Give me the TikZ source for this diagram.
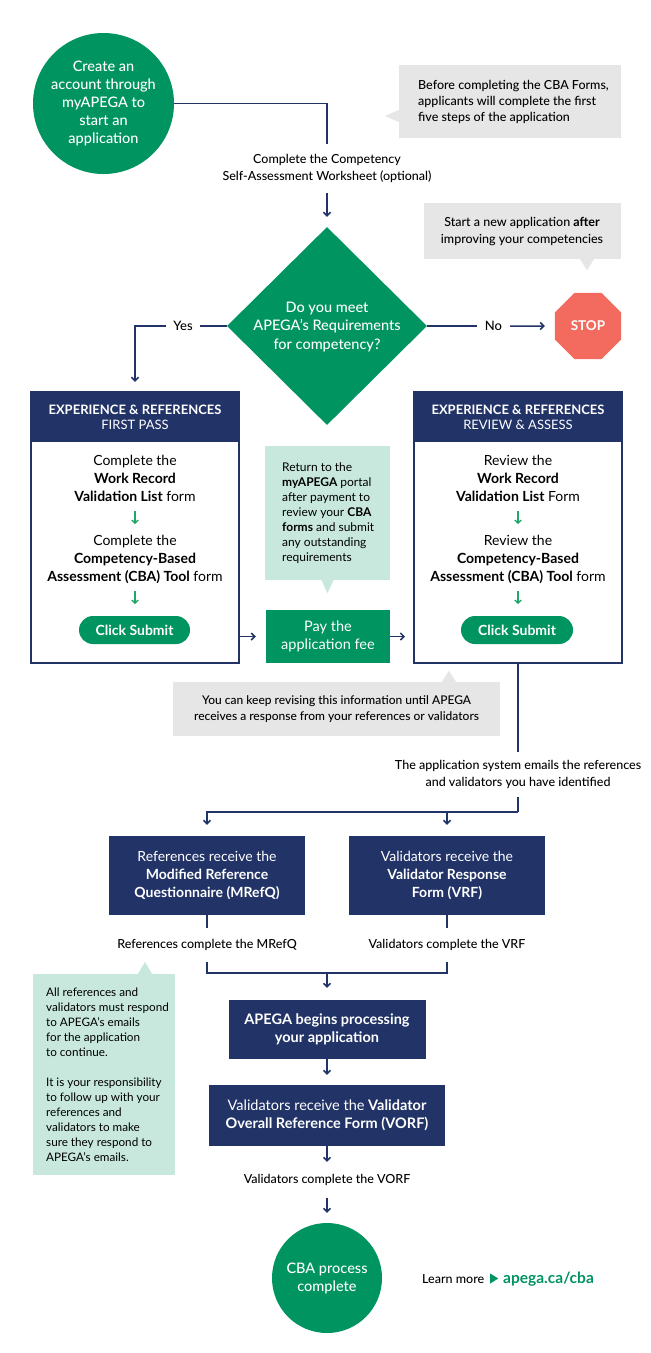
\documentclass[tikz,border=0pt]{standalone}
\usepackage{fontspec}
\setmainfont{Lato}
\IfFontExistsTF{Lato Medium}{\newfontfamily\medfont{Lato Medium}}{%
  \IfFontExistsTF{Lato Semibold}{\newfontfamily\medfont{Lato Semibold}}{\newcommand\medfont{\normalfont}}}
\usetikzlibrary{arrows.meta,calc,shapes.geometric}
\definecolor{apgreen}{HTML}{009460}
\definecolor{apnavy}{HTML}{223367}
\definecolor{apteal}{HTML}{C8E8DE}
\definecolor{apgray}{HTML}{E6E6E6}
\definecolor{apstop}{HTML}{F26B5E}
\definecolor{apsmall}{HTML}{1EA66D}
\newcommand\bd[1]{{\normalfont\bfseries #1}}
\tikzset{
  conn/.style={draw=apnavy, line width=1.5pt},
  arr/.style={conn, -{Straight Barb[length=3.5pt,width=7pt]}},
  garr/.style={draw=apsmall, line width=1.4pt, -{Straight Barb[length=3pt,width=6.5pt]}},
  lbl/.style={align=center, inner sep=0pt, font=\medfont\fontsize{12.5}{16.5}\selectfont, text=black},
  gcirc/.style={circle, fill=apgreen, text=white, align=center, inner sep=0pt, font=\medfont\fontsize{14.5}{18}\selectfont},
  nbox/.style={rectangle, fill=apnavy, text=white, align=center, inner sep=0pt, font=\fontsize{14}{18}\selectfont},
  outerframe/.style={rectangle, draw=apnavy, line width=2pt, inner sep=0pt, fill=white},
  bodytext/.style={align=center, inner sep=0pt, font=\fontsize{14}{18}\selectfont},
  pill/.style={rectangle, rounded corners=14pt, fill=apgreen, text=white, inner sep=0pt, font=\bfseries\fontsize{14}{16}\selectfont},
  gbox/.style={rectangle, fill=apgray, inner sep=0pt},
  tbox/.style={rectangle, fill=apteal, inner sep=0pt},
  notetext/.style={align=left, inner sep=0pt, font=\medfont\fontsize{12.5}{16}\selectfont},
  tealtext/.style={align=left, inner sep=0pt, font=\fontsize{12}{15}\selectfont},
}
\begin{document}
\begin{tikzpicture}[x=1pt,y=-1pt]
\useasboundingbox[fill=white] (0,0) rectangle (651,1353);

% ---------- top ----------
\node[gcirc, minimum size=141pt] (start) at (103.5,103.5) {Create an\\account through\\myAPEGA to\\start an\\application};

\node[gbox, minimum width=222pt, minimum height=73pt] (note0) at (510,101.5) {};
\fill[apgray] ($(note0.west)+(0,8.5)$) -- ($(note0.west)+(-14,14.5)$) -- ($(note0.west)+(0,20.5)$) -- cycle;
\node[notetext, anchor=west] (note0t) at (418,102) {Before completing the CBA Forms,\\applicants will complete the first\\five steps of the application};

\node[lbl, minimum height=49pt] (self) at (327,168.5) {Complete the Competency\\Self-Assessment Worksheet (optional)};

\node[gbox, minimum width=197pt, minimum height=56pt] (note2) at (522.5,231) {};
\fill[apgray] ($(note2.south)+(57.5,0)$) -- ($(note2.south)+(64.5,11)$) -- ($(note2.south)+(71.5,0)$) -- cycle;
\node[lbl] (note2t) at (522,231.5) {Start a new application \bd{after}\\improving your competencies};

\node[diamond, fill=apgreen, minimum width=200pt, minimum height=198pt, inner sep=0pt] (q) at (327,326) {};
\node[align=center, text=white, inner sep=0pt, font=\medfont\fontsize{14.5}{18.5}\selectfont] (qt) at (327,327) {Do you meet\\APEGA’s Requirements\\for competency?};

\node[regular polygon, regular polygon sides=8, minimum size=71.5pt, fill=apstop, inner sep=0pt, text=white, font=\bfseries\fontsize{13.5}{16}\selectfont] (stop) at (588,326) {STOP};

\node[lbl, minimum width=34pt, font=\medfont\fontsize{13}{16}\selectfont] (yes) at (183,326) {Yes};
\node[lbl, minimum width=33pt, font=\medfont\fontsize{13}{16}\selectfont] (no) at (493.5,326) {No};

% ---------- left box ----------
\node[outerframe, minimum width=208pt, minimum height=271pt] (lbox) at (135,527.5) {};
\node[nbox, minimum width=208pt, minimum height=50pt, font=\fontsize{13}{15}\selectfont] (lhead) at (135,417) {\textbf{EXPERIENCE \& REFERENCES}\\FIRST PASS};
\node[bodytext] (l1) at (135,478) {Complete the\\\textbf{Work Record}\\\textbf{Validation List} form};
\node[bodytext] (l2) at (135,559) {Complete the\\\textbf{Competency-Based}\\\textbf{Assessment (CBA) Tool} form};
\node[pill, minimum width=111pt, minimum height=28pt] (lsub) at (134.5,630) {Click Submit};
\coordinate (la1) at (135,511); \coordinate (la2) at (135,524);
\coordinate (la3) at (135,591); \coordinate (la4) at (135,604);
\draw[garr] (la1) -- (la2);
\draw[garr] (la3) -- (la4);

% ---------- middle ----------
\node[tbox, minimum width=125pt, minimum height=134pt] (n1) at (327.5,513) {};
\fill[apteal] ($(n1.south)+(-6,0)$) -- ($(n1.south)+(0,13)$) -- ($(n1.south)+(6,0)$) -- cycle;
\node[tealtext, anchor=west] (n1t) at (282,513) {Return to the\\\textbf{myAPEGA} portal\\after payment to\\review your \textbf{CBA}\\\textbf{forms} and submit\\any outstanding\\requirements};
\node[rectangle, fill=apgreen, text=white, align=center, inner sep=0pt, minimum width=124pt, minimum height=53pt, font=\fontsize{14.5}{18}\selectfont] (pay) at (328,636.5) {Pay the\\application fee};

% ---------- right box ----------
\node[outerframe, minimum width=208pt, minimum height=271pt] (rbox) at (518,527.5) {};
\node[nbox, minimum width=208pt, minimum height=50pt, font=\fontsize{13}{15}\selectfont] (rhead) at (518,417) {\textbf{EXPERIENCE \& REFERENCES}\\REVIEW \& ASSESS};
\node[bodytext] (r1) at (518,478) {Review the\\\textbf{Work Record}\\\textbf{Validation List} Form};
\node[bodytext] (r2) at (518,559) {Review the\\\textbf{Competency-Based}\\\textbf{Assessment (CBA) Tool} form};
\node[pill, minimum width=112pt, minimum height=28pt] (rsub) at (517,630) {Click Submit};
\coordinate (ra1) at (518,511); \coordinate (ra2) at (518,524);
\coordinate (ra3) at (518,591); \coordinate (ra4) at (518,604);
\draw[garr] (ra1) -- (ra2);
\draw[garr] (ra3) -- (ra4);

\node[gbox, minimum width=327pt, minimum height=54pt] (n3) at (336.5,709) {};
\fill[apgray] ($(n3.north)+(105.5,0)$) -- ($(n3.north)+(112.5,-11)$) -- ($(n3.north)+(119.5,0)$) -- cycle;
\node[lbl, font=\medfont\fontsize{12}{16.5}\selectfont] (n3t) at (336.5,709) {You can keep revising this information until APEGA\\receives a response from your references or validators};

% ---------- lower ----------
\node[lbl, minimum height=45pt] (emails) at (518,774.5) {The application system emails the references\\and validators you have identified};
\coordinate (split) at (518,812);
\node[nbox, minimum width=196pt, minimum height=79pt] (mref) at (207,875.5) {References receive the\\\textbf{Modified Reference}\\\textbf{Questionnaire (MRefQ)}};
\node[nbox, minimum width=196pt, minimum height=79pt] (vrf) at (447,875.5) {Validators receive the\\\textbf{Validator Response}\\\textbf{Form (VRF)}};
\node[lbl, minimum height=34pt] (mrefdone) at (207,945) {References complete the MRefQ};
\node[lbl, minimum height=34pt] (vrfdone) at (447,945) {Validators complete the VRF};
\coordinate (join) at (327,973);

\node[tbox, minimum width=142pt, minimum height=201pt] (n4) at (104,1074.5) {};
\fill[apteal] ($(n4.north)+(34,0)$) -- ($(n4.north)+(41,-12)$) -- ($(n4.north)+(48,0)$) -- cycle;
\node[tealtext, anchor=west, font=\fontsize{11.7}{15}\selectfont] (n4t) at (46,1074.5) {All references and\\validators must respond\\to APEGA’s emails\\for the application\\to continue.\\[15pt]It is your responsibility\\to follow up with your\\references and\\validators to make\\sure they respond to\\APEGA’s emails.};

\node[nbox, minimum width=197pt, minimum height=59pt, font=\bfseries\fontsize{14.5}{18}\selectfont] (proc) at (327,1029.5) {APEGA begins processing\\your application};
\node[nbox, minimum width=236pt, minimum height=61pt, font=\fontsize{14.5}{18}\selectfont] (vorf) at (327,1115.5) {Validators receive the \textbf{Validator}\\\textbf{Overall Reference Form (VORF)}};
\node[lbl, minimum height=36pt] (vorfdone) at (327,1180) {Validators complete the VORF};
\node[gcirc, minimum size=110pt] (end) at (327,1278) {CBA process\\complete};

\node[lbl, anchor=west, font=\medfont\fontsize{12.5}{14}\selectfont] (learn) at (422,1279) {Learn more};
\node[isosceles triangle, isosceles triangle stretches, fill=apgreen, inner sep=0pt, minimum height=8pt, minimum width=10pt] (tri) at (493,1278.5) {};
\node[anchor=west, inner sep=0pt, text=apgreen, font=\bfseries\fontsize{15.5}{16}\selectfont] (link) at (503,1279) {apega.ca/cba};

% ---------- connectors ----------
\draw[conn] (start.east) -| (self.north);
\draw[arr, shorten >=10pt] (self.south) -- (q.north);
\draw[conn] (q.west) -- (yes.east);
\draw[arr, shorten >=10pt] (yes.west) -| (lhead.north);
\draw[conn] (q.east) -- (no.west);
\draw[arr, shorten >=10pt] (no.east) -- (stop.west);
\draw[arr, shorten >=10pt] (lbox.east |- pay.west) -- (pay.west);
\draw[arr, shorten >=8pt] (pay.east) -- (pay.east -| rbox.west);
\draw[conn] (rbox.south) -- (emails.north);
\draw[conn] (emails.south) -- (split);
\draw[arr, shorten >=11pt] (split) -| (mref.north);
\draw[arr, shorten >=11pt] (split -| vrf.north) -- (vrf.north);
\draw[conn] (mref.south) -- (mrefdone.north);
\draw[conn] (vrf.south) -- (vrfdone.north);
\draw[conn] (mrefdone.south) |- (join) -| (vrfdone.south);
\draw[arr, shorten >=12pt] (join) -- (proc.north);
\draw[arr, shorten >=10pt] (proc.south) -- (vorf.north);
\draw[arr] (vorf.south) -- (vorfdone.north);
\draw[arr, shorten >=10pt] (vorfdone.south) -- (end.north);
\end{tikzpicture}
\end{document}
